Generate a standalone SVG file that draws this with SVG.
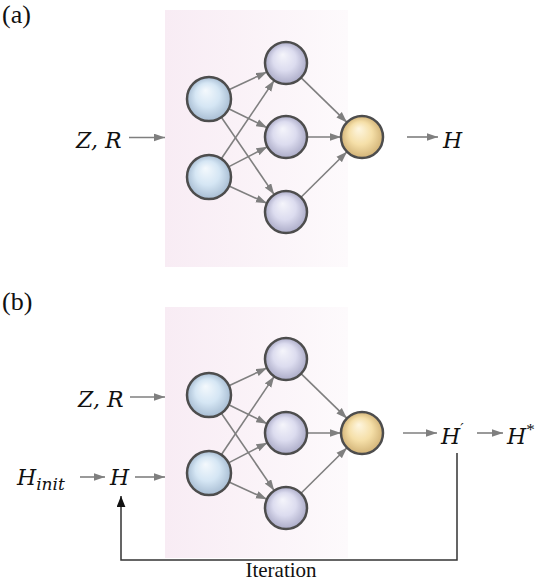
<svg xmlns="http://www.w3.org/2000/svg" width="541" height="583" viewBox="0 0 541 583">
<defs>
<linearGradient id="bg" x1="0" y1="0" x2="1" y2="0">
<stop offset="0" stop-color="#f8ecf4"/>
<stop offset="1" stop-color="#fdfafc"/>
</linearGradient>
<radialGradient id="gBlue" cx="0.5" cy="0.5" r="0.5" fx="0.42" fy="0.3">
<stop offset="0" stop-color="#f4f9fd"/>
<stop offset="0.55" stop-color="#d5e6f4"/>
<stop offset="1" stop-color="#a8bdd3"/>
</radialGradient>
<radialGradient id="gPurple" cx="0.5" cy="0.5" r="0.5" fx="0.42" fy="0.3">
<stop offset="0" stop-color="#f5f5fb"/>
<stop offset="0.55" stop-color="#dcdcef"/>
<stop offset="1" stop-color="#acacc8"/>
</radialGradient>
<radialGradient id="gYellow" cx="0.5" cy="0.5" r="0.5" fx="0.42" fy="0.3">
<stop offset="0" stop-color="#fef6e0"/>
<stop offset="0.55" stop-color="#f5dfa8"/>
<stop offset="1" stop-color="#d2b377"/>
</radialGradient>
<marker id="ag" viewBox="0 0 10 7" refX="10" refY="3.5" markerWidth="11" markerHeight="8" markerUnits="userSpaceOnUse" orient="auto">
<path d="M0,0 L10,3.5 L0,7 z" fill="#7f7f7f"/>
</marker>
<marker id="ak" viewBox="0 0 10 8" refX="10" refY="4" markerWidth="11" markerHeight="9" markerUnits="userSpaceOnUse" orient="auto">
<path d="M0,0 L10,4 L0,8 z" fill="#111"/>
</marker>
</defs>
<style>
.node{stroke:#4d4d4d;stroke-width:2.5}
.in{fill:url(#gBlue)}
.hid{fill:url(#gPurple)}
.out{fill:url(#gYellow)}
.e{stroke:#7f7f7f;stroke-width:1.6;fill:none;marker-end:url(#ag)}
.fb{stroke:#333;stroke-width:1.5;fill:none}
.m{font-family:"DejaVu Serif","Liberation Serif",serif;font-style:italic;font-size:22px;fill:#111}
.lab{font-family:"Liberation Serif","Times New Roman",serif;font-size:26px;fill:#111}
.it{font-family:"Liberation Serif","Times New Roman",serif;font-size:21px;fill:#111}
</style>
<rect fill="#fff" width="541" height="583"/>

<!-- Panel (a) -->
<text class="lab" x="2" y="23">(a)</text>
<rect id="box-a" x="165" y="10" width="183" height="257" fill="url(#bg)"/>
<g id="connectors-a">
<line class="e" x1="129" y1="137.5" x2="165" y2="137.5"/>
<line class="e" x1="228.9" y1="89.7" x2="267" y2="71.9"/>
<line class="e" x1="228.7" y1="108.7" x2="267.2" y2="127.7"/>
<line class="e" x1="221.4" y1="117.2" x2="274.2" y2="194.6"/>
<line class="e" x1="221.3" y1="158.8" x2="274.2" y2="80.4"/>
<line class="e" x1="228.5" y1="166.9" x2="267.4" y2="146.7"/>
<line class="e" x1="229" y1="186.1" x2="266.9" y2="203.3"/>
<line class="e" x1="301" y1="77.6" x2="347" y2="122.4"/>
<line class="e" x1="307" y1="137" x2="341" y2="137"/>
<line class="e" x1="301" y1="197.3" x2="347" y2="151.7"/>
<line class="e" x1="407" y1="137" x2="438" y2="137"/>
</g>
<g id="a-in1"><circle class="node in" cx="209" cy="99" r="22"/></g>
<g id="a-in2"><circle class="node in" cx="209" cy="177" r="22"/></g>
<g id="a-h1"><circle class="node hid" cx="286" cy="63" r="21"/></g>
<g id="a-h2"><circle class="node hid" cx="286" cy="137" r="21"/></g>
<g id="a-h3"><circle class="node hid" cx="286" cy="212" r="21"/></g>
<g id="a-out"><circle class="node out" cx="362" cy="137" r="21"/></g>
<g id="a-zr"><text class="m" x="76" y="148">Z, R</text></g>
<g id="a-h"><text class="m" x="443" y="148">H</text></g>

<!-- Panel (b) -->
<text class="lab" x="2" y="310">(b)</text>
<rect id="box-b" x="165" y="307" width="183" height="251" fill="url(#bg)"/>
<g id="connectors-b">
<line class="e" x1="130" y1="397" x2="165" y2="397"/>
<line class="e" x1="80" y1="477" x2="105" y2="477"/>
<line class="e" x1="135" y1="477" x2="165" y2="477"/>
<g transform="translate(0,296)">
<line class="e" x1="228.9" y1="89.7" x2="267" y2="71.9"/>
<line class="e" x1="228.7" y1="108.7" x2="267.2" y2="127.7"/>
<line class="e" x1="221.4" y1="117.2" x2="274.2" y2="194.6"/>
<line class="e" x1="221.3" y1="158.8" x2="274.2" y2="80.4"/>
<line class="e" x1="228.5" y1="166.9" x2="267.4" y2="146.7"/>
<line class="e" x1="229" y1="186.1" x2="266.9" y2="203.3"/>
<line class="e" x1="301" y1="77.6" x2="347" y2="122.4"/>
<line class="e" x1="307" y1="137" x2="341" y2="137"/>
<line class="e" x1="301" y1="197.3" x2="347" y2="151.7"/>
</g>
<line class="e" x1="403" y1="433" x2="437" y2="433"/>
<line class="e" x1="477" y1="433" x2="503" y2="433"/>
<path class="fb" d="M457,453 L457,560 L121,560 L121,496" marker-end="url(#ak)"/>
</g>
<g id="b-in1"><circle class="node in" cx="209" cy="395" r="22"/></g>
<g id="b-in2"><circle class="node in" cx="209" cy="473" r="22"/></g>
<g id="b-h1"><circle class="node hid" cx="286" cy="359" r="21"/></g>
<g id="b-h2"><circle class="node hid" cx="286" cy="433" r="21"/></g>
<g id="b-h3"><circle class="node hid" cx="286" cy="508" r="21"/></g>
<g id="b-out"><circle class="node out" cx="362" cy="433" r="21"/></g>
<g id="b-zr"><text class="m" x="78" y="407">Z, R</text></g>
<g id="b-hinit"><text class="m" x="17" y="485">H<tspan font-size="17" dy="5">init</tspan></text></g>
<g id="b-h"><text class="m" x="110" y="485">H</text></g>
<g id="b-hp"><text class="m" x="441" y="444">H<tspan font-size="15" dy="-10">′</tspan></text></g>
<g id="b-hs"><text class="m" x="507" y="444">H<tspan font-family="Liberation Serif" font-style="normal" font-size="17" dy="-9">*</tspan></text></g>
<text class="it" x="281" y="577" text-anchor="middle">Iteration</text>
</svg>
